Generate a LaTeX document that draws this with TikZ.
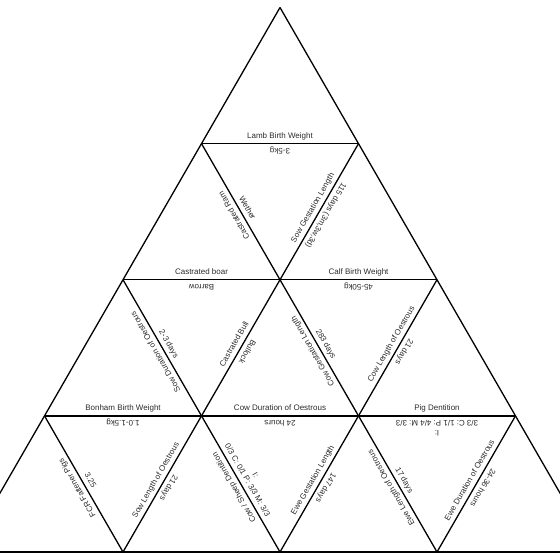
\documentclass[tikz,border=0pt]{standalone}
\usepackage{fontspec}
\setmainfont{Liberation Sans}
\usetikzlibrary{calc}
\definecolor{txt}{HTML}{2B2B2B}
\tikzset{
  edge/.style={line width=1.3pt, black},
  lab/.style={font=\fontsize{8}{9.4}\selectfont, text=txt, anchor=south, inner sep=0pt, outer sep=3.4pt, text depth=1.7pt, align=center}
}
\begin{document}
\begin{tikzpicture}[x=1pt,y=-1pt]
\useasboundingbox (0,0) rectangle (560,560);
\clip (0,0) rectangle (560,560);
% vertices
\coordinate (P00) at (280,7.5);
\coordinate (P10) at (201.5,143.625);
\coordinate (P11) at (358.5,143.625);
\coordinate (P20) at (123,279.75);
\coordinate (P21) at (280,279.75);
\coordinate (P22) at (437,279.75);
\coordinate (P30) at (44.5,415.875);
\coordinate (P31) at (201.5,415.875);
\coordinate (P32) at (358.5,415.875);
\coordinate (P33) at (515.5,415.875);
\coordinate (P40) at (-34,552);
\coordinate (P41) at (123,552);
\coordinate (P42) at (280,552);
\coordinate (P43) at (437,552);
\coordinate (P44) at (594,552);
% grid lines
\draw[edge] (P10) -- (P11);
\draw[edge] (P20) -- (P22);
\draw[edge] (P30) -- (P33);
\draw[edge] (P40) -- (P44);
\draw[edge] (P40) -- (P00);
\draw[edge] (P41) -- (P11);
\draw[edge] (P42) -- (P22);
\draw[edge] (P43) -- (P33);
\draw[edge] (P44) -- (P00);
\draw[edge] (P43) -- (P10);
\draw[edge] (P42) -- (P20);
\draw[edge] (P41) -- (P30);
% horizontal labels
\node[lab, rotate=0] (a1) at ($(P10)!0.5!(P11)$) {Lamb Birth Weight};
\node[lab, rotate=180] (a2) at ($(P10)!0.5!(P11)$) {3-5kg};
\node[lab, rotate=0] (b1) at ($(P20)!0.5!(P21)$) {Castrated boar};
\node[lab, rotate=180] (b2) at ($(P20)!0.5!(P21)$) {Barrow};
\node[lab, rotate=0] (c1) at ($(P21)!0.5!(P22)$) {Calf Birth Weight};
\node[lab, rotate=180] (c2) at ($(P21)!0.5!(P22)$) {45-50kg};
\node[lab, rotate=0] (d1) at ($(P30)!0.5!(P31)$) {Bonham Birth Weight};
\node[lab, rotate=180] (d2) at ($(P30)!0.5!(P31)$) {1.0-1.5kg};
\node[lab, rotate=0] (e1) at ($(P31)!0.5!(P32)$) {Cow Duration of Oestrous};
\node[lab, rotate=180] (e2) at ($(P31)!0.5!(P32)$) {24 hours};
\node[lab, rotate=0] (f1) at ($(P32)!0.5!(P33)$) {Pig Dentition};
\node[lab, rotate=180] (f2) at ($(P32)!0.5!(P33)$) {I:\\3/3 C: 1/1 P: 4/4 M: 3/3};
% row 2 diagonals
\node[lab, rotate=120] (g1) at ($(P10)!0.5!(P21)$) {Castrated Ram};
\node[lab, rotate=-60] (g2) at ($(P10)!0.5!(P21)$) {Wether};
\node[lab, rotate=60] (h1) at ($(P11)!0.5!(P21)$) {Sow Gestation Length};
\node[lab, rotate=-120] (h2) at ($(P11)!0.5!(P21)$) {115 days (3m,3w,3d)};
% row 3 diagonals
\node[lab, rotate=120] (i1) at ($(P20)!0.5!(P31)$) {Sow Duration of Oestrous};
\node[lab, rotate=-60] (i2) at ($(P20)!0.5!(P31)$) {2-3 days};
\node[lab, rotate=60] (j1) at ($(P21)!0.5!(P31)$) {Castrated Bull};
\node[lab, rotate=-120] (j2) at ($(P21)!0.5!(P31)$) {Bullock};
\node[lab, rotate=120] (k1) at ($(P21)!0.5!(P32)$) {Cow Gestation Length};
\node[lab, rotate=-60] (k2) at ($(P21)!0.5!(P32)$) {283 days};
\node[lab, rotate=60] (l1) at ($(P22)!0.5!(P32)$) {Cow Length of Oestrous};
\node[lab, rotate=-120] (l2) at ($(P22)!0.5!(P32)$) {21 days};
% row 4 diagonals
\node[lab, rotate=120] (m1) at ($(P30)!0.5!(P41)$) {FCR Fattener Pigs};
\node[lab, rotate=-60] (m2) at ($(P30)!0.5!(P41)$) {3.25};
\node[lab, rotate=60] (n1) at ($(P31)!0.5!(P41)$) {Sow Length of Oestrous};
\node[lab, rotate=-120] (n2) at ($(P31)!0.5!(P41)$) {21 days};
\node[lab, rotate=120] (o1) at ($(P31)!0.5!(P42)$) {Cow / Sheep Dentition};
\node[lab, rotate=-60] (o2) at ($(P31)!0.5!(P42)$) {I:\\0/3 C: 0/1 P: 3/3 M: 3/3};
\node[lab, rotate=60] (p1) at ($(P32)!0.5!(P42)$) {Ewe Gestation Length};
\node[lab, rotate=-120] (p2) at ($(P32)!0.5!(P42)$) {147 days};
\node[lab, rotate=120] (q1) at ($(P32)!0.5!(P43)$) {Ewe Length of Oestrous};
\node[lab, rotate=-60] (q2) at ($(P32)!0.5!(P43)$) {17 days};
\node[lab, rotate=60] (r1) at ($(P33)!0.5!(P43)$) {Ewe Duration of Oestrous};
\node[lab, rotate=-120] (r2) at ($(P33)!0.5!(P43)$) {24-36 hours};
\end{tikzpicture}
\end{document}
